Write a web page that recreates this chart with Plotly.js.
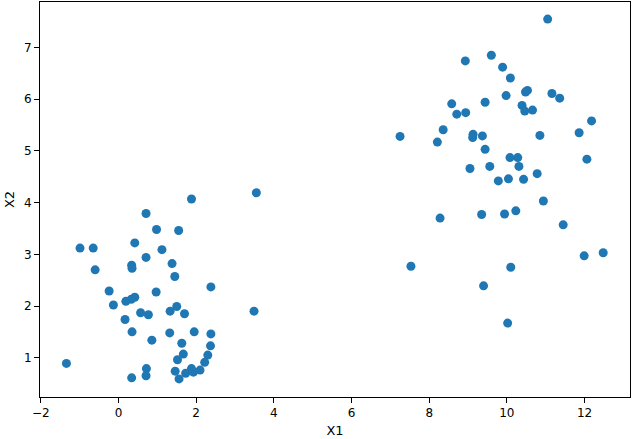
<!DOCTYPE html>
<html>
<head>
<meta charset="utf-8">
<script src="https://cdn.plot.ly/plotly-3.0.1.min.js"></script>
<style>
  body { margin: 0; padding: 0; background: #fff; }
  #chart { width: 632px; height: 439px; }
</style>
</head>
<body>
<div id="chart"></div>
<script>
// blob 1 (lower left)
const x1A = [3.55, 1.88, 0.71, 0.98, 1.55, -0.99, -0.65, 0.42, 1.12, 0.71,
             0.34, 0.35, 1.38, -0.60, 1.45, 2.38, -0.24, 0.97, 0.42, 0.33,
             0.19, -0.13, 1.50, 1.33, 1.70, 3.49, 0.57, 0.77, 0.17, 0.35,
             1.32, 1.95, 2.38, 0.86, 1.63, 2.37, 1.67, 1.52, 2.30, 2.22,
             -1.34, 0.72, 0.71, 0.34, 1.46, 1.56, 1.73, 1.88, 1.93, 2.10];
const x2A = [4.19, 4.07, 3.79, 3.48, 3.46, 3.12, 3.12, 3.22, 3.09, 2.94,
             2.79, 2.73, 2.82, 2.70, 2.57, 2.37, 2.29, 2.27, 2.17, 2.13,
             2.09, 2.02, 1.99, 1.90, 1.85, 1.90, 1.87, 1.83, 1.74, 1.50,
             1.48, 1.50, 1.46, 1.34, 1.28, 1.23, 1.07, 0.96, 1.05, 0.91,
             0.89, 0.79, 0.65, 0.61, 0.74, 0.59, 0.70, 0.79, 0.72, 0.76];

// blob 2 (upper right)
const x1B = [11.05, 9.60, 8.93, 9.89, 10.09, 10.48, 10.53, 11.16, 11.36, 9.98,
             9.44, 8.58, 8.71, 8.94, 10.39, 10.46, 10.66, 12.18, 11.86, 10.85,
             7.25, 8.36, 8.21, 9.13, 9.12, 9.37, 9.44, 10.08, 10.28, 10.31,
             12.06, 9.05, 9.56, 10.78, 9.78, 10.04, 10.43, 10.94, 8.28, 9.35,
             9.94, 10.23, 11.45, 11.99, 12.48, 7.53, 10.10, 9.40, 10.02];
const x2B = [7.55, 6.85, 6.74, 6.62, 6.41, 6.14, 6.17, 6.11, 6.02, 6.07,
             5.94, 5.91, 5.71, 5.74, 5.88, 5.77, 5.79, 5.58, 5.35, 5.30,
             5.28, 5.41, 5.17, 5.32, 5.26, 5.29, 5.03, 4.87, 4.87, 4.70,
             4.84, 4.66, 4.70, 4.56, 4.42, 4.46, 4.45, 4.03, 3.70, 3.77,
             3.78, 3.84, 3.57, 2.97, 3.03, 2.77, 2.75, 2.39, 1.67];

const allX = x1A.concat(x1B);
const allY = x2A.concat(x2B);

const axisStyle = {
    showgrid: false,
    zeroline: false,
    showline: true,
    mirror: true,
    linecolor: "#000",
    linewidth: 1,
    ticks: "outside",
    ticklen: 5,
    tickwidth: 1,
    tickcolor: "#000",
    tickfont: {size: 12, color: "#000"}
};

Plotly.newPlot("chart", [{
    x: allX,
    y: allY,
    mode: "markers",
    type: "scatter",
    marker: {color: "#1f77b4", size: 9, line: {width: 0}},
    hoverinfo: "skip"
}], {
    width: 632,
    height: 439,
    margin: {l: 40, r: 2, t: 2, b: 42},
    paper_bgcolor: "#fff",
    plot_bgcolor: "#fff",
    font: {family: "DejaVu Sans", size: 12, color: "#000"},
    showlegend: false,
    xaxis: Object.assign({}, axisStyle, {
        range: [-2.02, 13.17],
        tickvals: [-2, 0, 2, 4, 6, 8, 10, 12],
        title: {text: "X1", font: {size: 13}, standoff: 6}
    }),
    yaxis: Object.assign({}, axisStyle, {
        range: [0.24, 7.88],
        tickvals: [1, 2, 3, 4, 5, 6, 7],
        title: {text: "X2", font: {size: 13}, standoff: 6}
    })
}, {displayModeBar: false, staticPlot: true});
</script>
</body>
</html>
